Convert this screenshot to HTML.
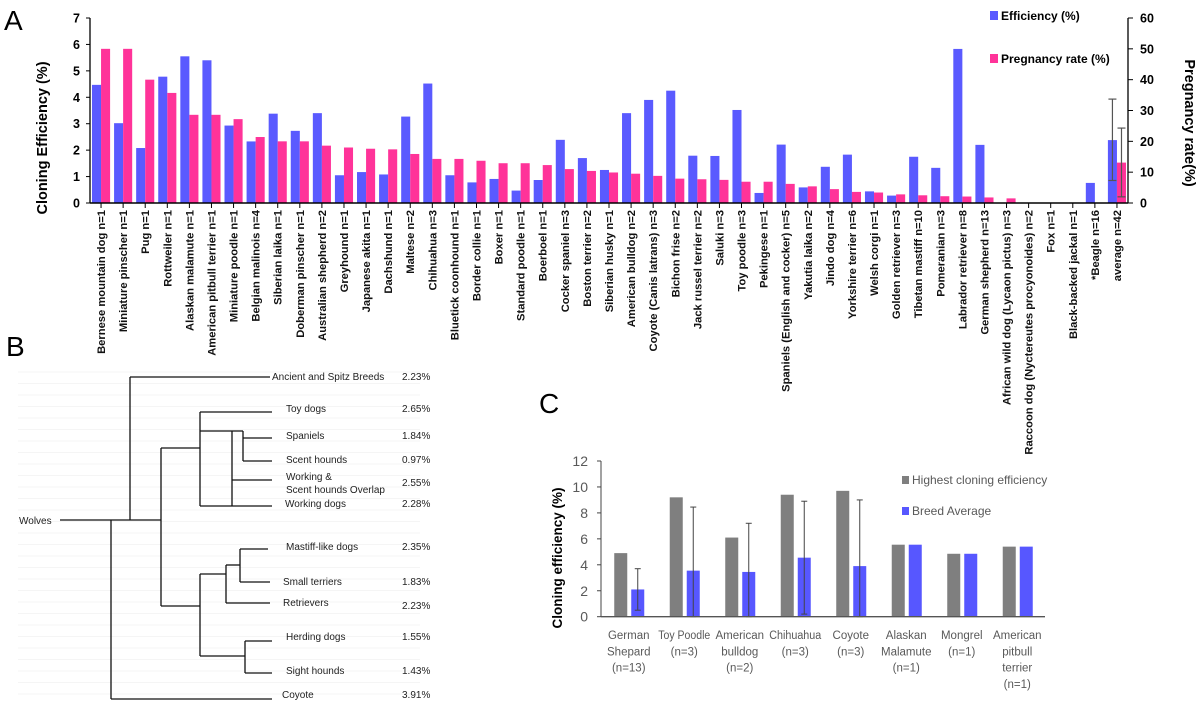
<!DOCTYPE html>
<html><head><meta charset="utf-8"><style>
html,body{margin:0;padding:0;background:#fff;}
svg{display:block;font-family:"Liberation Sans",sans-serif;}
</style></head><body>
<svg id="fig" width="1200" height="710" viewBox="0 0 1200 710">
<rect width="1200" height="710" fill="#fff"/>
<g id="panelA"></g>
<g id="panelB"></g>
<g id="panelC"></g>
</svg>
<script>
const breeds = ["Bernese mountain dog n=1","Miniature pinscher n=1","Pug n=1","Rottweiler n=1","Alaskan malamute n=1","American pitbull terrier n=1","Miniature poodle n=1","Belgian malinois n=4","Siberian laika n=1","Doberman pinscher n=1","Australian shepherd n=2","Greyhound n=1","Japanese akita n=1","Dachshund n=1","Maltese n=2","Chihuahua n=3","Bluetick coonhound n=1","Border collie n=1","Boxer n=1","Standard poodle n=1","Boerboel n=1","Cocker spaniel n=3","Boston terrier n=2","Siberian husky n=1","American bulldog n=2","Coyote (Canis latrans) n=3","Bichon frise n=2","Jack russel terrier n=2","Saluki n=3","Toy poodle n=3","Pekingese n=1","Spaniels (English and cocker) n=5","Yakutia laika n=2","Jindo dog n=4","Yorkshire terrier n=6","Welsh corgi n=1","Golden retriever n=3","Tibetan mastiff n=10","Pomeranian n=3","Labrador retriever n=8","German shepherd n=13","African wild dog (Lycaon pictus) n=3","Raccoon dog (Nyctereutes procyonoides) n=2","Fox n=1","Black-backed jackal n=1","*Beagle n=16","average n=42"];
const efficiency = [4.47,3.02,2.08,4.78,5.55,5.4,2.93,2.33,3.38,2.73,3.4,1.05,1.17,1.08,3.27,4.52,1.05,0.78,0.91,0.47,0.87,2.39,1.7,1.25,3.4,3.9,4.25,1.79,1.78,3.52,0.38,2.21,0.59,1.37,1.83,0.44,0.28,1.75,1.33,5.83,2.2,0,0,0,0,0.76,2.38];
const pregnancy = [50,50,40,35.7,28.6,28.6,27.2,21.4,20,20,18.6,18,17.6,17.4,15.9,14.3,14.3,13.7,12.9,12.9,12.3,11,10.4,9.9,9.5,8.8,7.9,7.7,7.5,6.9,6.9,6.2,5.4,4.5,3.6,3.4,2.8,2.5,2.2,2.1,1.8,1.5,0,0,0,0,13.1];
const avgEffErr = [7.3,33.7];
const avgPregErr = [2,24.3];
const leftTicks = [0,1,2,3,4,5,6,7];
const rightTicks = [0,10,20,30,40,50,60];

const cBreeds = [["German","Shepard","(n=13)"],["Toy Poodle","(n=3)"],["American","bulldog","(n=2)"],["Chihuahua","(n=3)"],["Coyote","(n=3)"],["Alaskan","Malamute","(n=1)"],["Mongrel","(n=1)"],["American","pitbull","terrier","(n=1)"]];
const cHighest = [4.9,9.2,6.1,9.4,9.7,5.55,4.85,5.4];
const cAverage = [2.1,3.55,3.45,4.55,3.9,5.55,4.85,5.4];
const cErrLow = [0.5,0,0,0.2,0,null,null,null];
const cErrHigh = [3.7,8.45,7.2,8.9,9.0,null,null,null];
const cTicks = [0,2,4,6,8,10,12];

const NS="http://www.w3.org/2000/svg";
function mk(parent,tag,attrs,text){const e=document.createElementNS(NS,tag);for(const k in attrs)e.setAttribute(k,attrs[k]);if(text!==undefined)e.textContent=text;parent.appendChild(e);return e;}

// ---------- Panel A ----------
const A=document.getElementById('panelA');
const aX0=90,aX1=1128,aY0=203,aYtop=18;
const yL=v=>aY0-(v/7)*(aY0-aYtop);
const yR=v=>aY0-(v/60)*(aY0-aYtop);
const cw=(aX1-aX0)/breeds.length;
const bw=cw*0.41;
let t;
t=mk(A,'text',{x:4,y:30,'font-size':28,fill:'#000'},'A');

breeds.forEach((b,i)=>{
  const cx=aX0+cw*(i+0.5);
  let r=mk(A,'rect',{x:cx-bw,y:yL(efficiency[i]),width:bw,height:aY0-yL(efficiency[i]),fill:'#5a5aff'});
  
  r=mk(A,'rect',{x:cx,y:yR(pregnancy[i]),width:bw,height:aY0-yR(pregnancy[i]),fill:'#ff3399'});
  
  mk(A,'line',{x1:cx,x2:cx,y1:aY0,y2:aY0+5,stroke:'#000','stroke-width':1});
  const lb=mk(A,'text',{x:0,y:0,transform:`translate(${cx+4},210) rotate(-90)`,'text-anchor':'end','font-size':11.2,'font-weight':'bold',fill:'#111'},b);
  
});
(function(){const i=breeds.length-1,cx=aX0+cw*(i+0.5);
 [[cx-bw/2,avgEffErr],[cx+bw/2,avgPregErr]].forEach(([x,e])=>{
  const g=mk(A,'g',{stroke:'#555','stroke-width':1.2});
  
  mk(g,'line',{x1:x,x2:x,y1:yR(e[0]),y2:yR(e[1])});
  mk(g,'line',{x1:x-4,x2:x+4,y1:yR(e[0]),y2:yR(e[0])});
  mk(g,'line',{x1:x-4,x2:x+4,y1:yR(e[1]),y2:yR(e[1])});
 });})();
mk(A,'line',{x1:aX0,x2:aX0,y1:aYtop,y2:aY0,stroke:'#000','stroke-width':1.3});
mk(A,'line',{x1:aX1,x2:aX1,y1:aYtop,y2:aY0,stroke:'#000','stroke-width':1.3});
mk(A,'line',{x1:aX0,x2:aX1,y1:aY0,y2:aY0,stroke:'#000','stroke-width':1.5});
leftTicks.forEach(v=>{mk(A,'line',{x1:aX0-4,x2:aX0,y1:yL(v),y2:yL(v),stroke:'#000'});
  const tt=mk(A,'text',{x:80,y:yL(v)+4.5,'text-anchor':'end','font-size':12.5,'font-weight':'bold'},v);
  });
rightTicks.forEach(v=>{mk(A,'line',{x1:aX1,x2:aX1+5,y1:yR(v),y2:yR(v),stroke:'#000'});
  const tt=mk(A,'text',{x:1140,y:yR(v)+4.5,'font-size':12.5,'font-weight':'bold'},v);
  });
t=mk(A,'text',{transform:'translate(47,138) rotate(-90)','text-anchor':'middle','font-size':14.5,'font-weight':'bold'},'Cloning Efficiency (%)');

t=mk(A,'text',{transform:'translate(1185,123) rotate(90)','text-anchor':'middle','font-size':14.5,'font-weight':'bold'},'Pregnancy rate(%)');

let lg=mk(A,'g',{});
mk(lg,'rect',{x:990,y:11,width:8,height:9,fill:'#5a5aff'});
mk(lg,'text',{x:1001,y:20,'font-size':12,'font-weight':'bold'},'Efficiency (%)');
lg=mk(A,'g',{});
mk(lg,'rect',{x:990,y:54,width:8,height:9,fill:'#ff3399'});
mk(lg,'text',{x:1001,y:63,'font-size':12,'font-weight':'bold'},'Pregnancy rate (%)');

// ---------- Panel B ----------
const B=document.getElementById('panelB');
mk(B,'rect',{x:0,y:362,width:420,height:348,fill:'#fff'});
for(let y=372;y<705;y+=11.5) mk(B,'line',{x1:18,x2:420,y1:y,y2:y,stroke:'#f2f2f2','stroke-width':0.8});
t=mk(B,'text',{x:6,y:356,'font-size':28},'B');

const treeSegs=[[60,520,161,520],[111,520,111,699],[111,699,272,699],[130,520,130,377],[130,377,270,377],
[161,448,161,606],[161,448,200,448],[200,412,200,506],[200,412,272,412],[200,431,243,431],[232,431,232,506],
[200,506,272,506],[232,480,272,480],[243,431,243,461],[243,438,272,438],[243,461,272,461],
[161,606,200,606],[200,574,200,656],[200,574,226,574],[226,565,226,603],[226,565,240,565],[240,549,240,582],
[240,549,268,549],[240,582,270,582],[226,603,270,603],[200,656,245,656],[245,641,245,673],[245,641,272,641],[245,673,272,673]];
const tg=mk(B,'g',{stroke:'#111','stroke-width':1.3,fill:'none'});

treeSegs.forEach(s=>mk(tg,'line',{x1:s[0],y1:s[1],x2:s[2],y2:s[3]}));
const bLabels=[["Wolves",19,524,""],["Ancient and Spitz Breeds",272,380,"2.23%"],["Toy dogs",286,412,"2.65%"],["Spaniels",286,439,"1.84%"],["Scent hounds",286,463,"0.97%"],["Working &",286,480,""],["Scent hounds Overlap",286,493,"2.55%"],["Working dogs",285,507,"2.28%"],["Mastiff-like dogs",286,550,"2.35%"],["Small terriers",283,585,"1.83%"],["Retrievers",283,606,"2.23%"],["Herding dogs",286,640,"1.55%"],["Sight hounds",286,674,"1.43%"],["Coyote",282,698,"3.91%"]];
bLabels.forEach(([s,x,y,p])=>{
  const e=mk(B,'text',{x:x,y:y,'font-size':10,fill:'#222'},s);
  
  if(p){let py=y; if(s==="Scent hounds Overlap") py=y-7; if(s==="Retrievers") py=y+3;
    const q=mk(B,'text',{x:402,y:py,'font-size':10,fill:'#222'},p);
    }
});

// ---------- Panel C ----------
const C=document.getElementById('panelC');
t=mk(C,'text',{x:539,y:413,'font-size':28},'C');

const cX0=601,cX1=1045,cY0=616.7,cYtop=461;
const yC=v=>cY0-(v/12)*(cY0-cYtop);
const ccw=(cX1-cX0)/cBreeds.length;
const cbw=13;
mk(C,'line',{x1:cX0,x2:cX0,y1:cYtop,y2:cY0,stroke:'#444','stroke-width':1});
cTicks.forEach(v=>{mk(C,'line',{x1:cX0-4,x2:cX0,y1:yC(v),y2:yC(v),stroke:'#444'});
  const tt=mk(C,'text',{x:588,y:yC(v)+5,'text-anchor':'end','font-size':14,fill:'#595959'},v);
  });
cBreeds.forEach((lines,i)=>{
  const cx=cX0+ccw*(i+0.5);
  let r=mk(C,'rect',{x:cx-cbw-1.5,y:yC(cHighest[i]),width:cbw,height:cY0-yC(cHighest[i]),fill:'#7f7f7f'});
  
  r=mk(C,'rect',{x:cx+2.5,y:yC(cAverage[i]),width:cbw,height:cY0-yC(cAverage[i]),fill:'#5757ff'});
  
  if(cErrHigh[i]!==null){const x=cx+2.5+cbw/2;
    const g=mk(C,'g',{stroke:'#444','stroke-width':1});
    
    mk(g,'line',{x1:x,x2:x,y1:yC(cErrLow[i]),y2:yC(cErrHigh[i])});
    mk(g,'line',{x1:x-3,x2:x+3,y1:yC(cErrLow[i]),y2:yC(cErrLow[i])});
    mk(g,'line',{x1:x-3,x2:x+3,y1:yC(cErrHigh[i]),y2:yC(cErrHigh[i])});}
  lines.forEach((s,k)=>{const at={x:cx,y:639+k*16.3,'text-anchor':'middle','font-size':11.5,fill:'#595959'};
    if(s.length>=9){at.textLength=52;at.lengthAdjust='spacingAndGlyphs';}
    const e=mk(C,'text',at,s);
    });
});
mk(C,'line',{x1:cX0,x2:cX1,y1:cY0,y2:cY0,stroke:'#555','stroke-width':1.3});
t=mk(C,'text',{transform:'translate(562,558) rotate(-90)','text-anchor':'middle','font-size':13.5,'font-weight':'bold'},'Cloning efficiency (%)');

lg=mk(C,'g',{});
mk(lg,'rect',{x:902,y:476,width:7,height:8,fill:'#7f7f7f'});
mk(lg,'text',{x:912,y:484,'font-size':12,fill:'#595959'},'Highest cloning efficiency');
lg=mk(C,'g',{});
mk(lg,'rect',{x:902,y:507,width:7,height:8,fill:'#5757ff'});
mk(lg,'text',{x:912,y:515,'font-size':12,fill:'#595959'},'Breed Average');
</script>
</body></html>
